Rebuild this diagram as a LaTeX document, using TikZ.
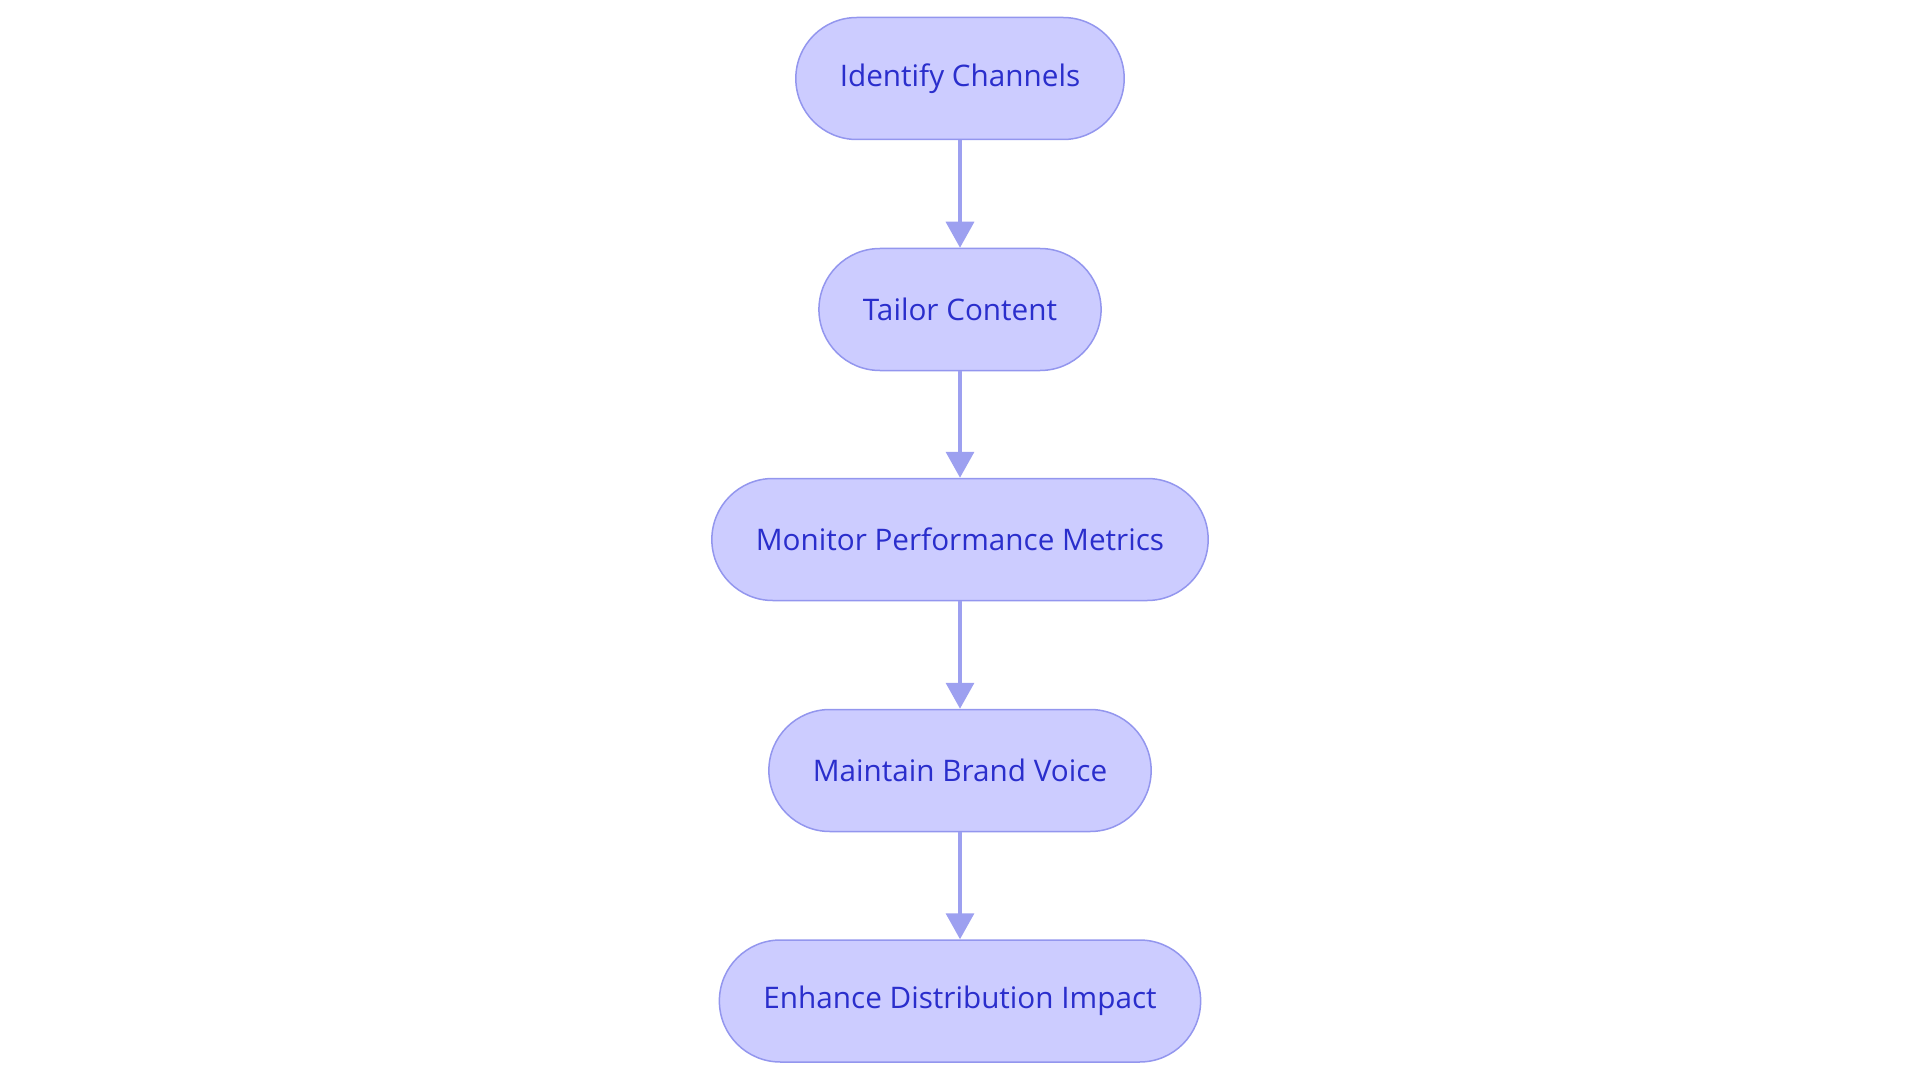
\documentclass[tikz,border=0pt]{standalone}
\usepackage{fontspec}
\setmainfont{Open Sans}
\usetikzlibrary{arrows.meta}
\definecolor{nodefill}{RGB}{204,204,255}
\definecolor{nodeline}{RGB}{147,150,238}
\definecolor{nodetext}{RGB}{42,46,204}
\definecolor{arrowcol}{RGB}{157,160,240}
\tikzset{
  stadium/.style={draw=nodeline, fill=nodefill, line width=1.5pt, rounded corners=61pt,
    minimum height=122pt, inner xsep=44pt, text=nodetext,
    font=\fontsize{29.7}{34}\selectfont},
  flow/.style={draw=arrowcol, line width=3.5pt, -{Triangle[width=28pt,length=26pt]}}
}
\begin{document}
\begin{tikzpicture}[x=1pt,y=-1pt]
\useasboundingbox (0,0) rectangle (1920,1083);
\node[stadium] (n1) at (960,78.5) {Identify Channels};
\node[stadium] (n2) at (960,309.5) {Tailor Content};
\node[stadium] (n3) at (960,539.5) {Monitor Performance Metrics};
\node[stadium] (n4) at (960,770.5) {Maintain Brand Voice};
\node[stadium] (n5) at (960,1001) {Enhance Distribution Impact};
\draw[flow] (n1) -- (n2);
\draw[flow] (n2) -- (n3);
\draw[flow] (n3) -- (n4);
\draw[flow] (n4) -- (n5);
\end{tikzpicture}
\end{document}
